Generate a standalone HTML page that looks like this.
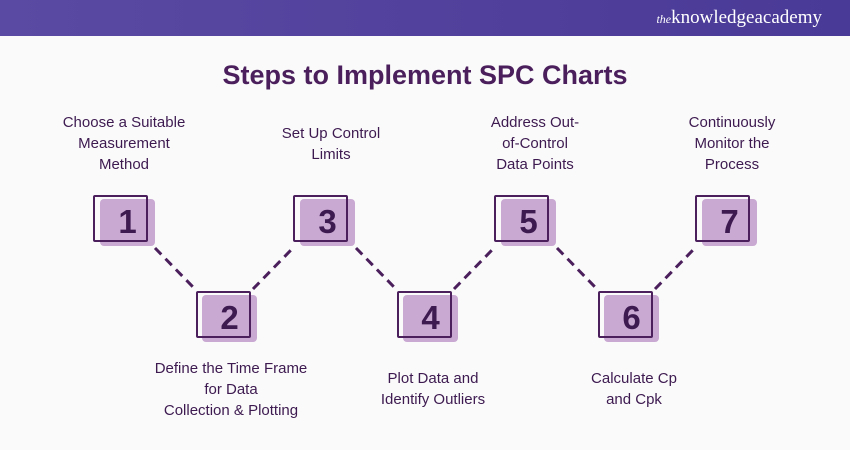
<!DOCTYPE html>
<html><head><style>
body{margin:0;width:850px;height:450px;background:#fafafa;position:relative;overflow:hidden;font-family:"Liberation Sans",sans-serif;}
.hdr{position:absolute;left:0;top:0;width:850px;height:36px;background:linear-gradient(90deg,#5a4aa3,#4a3a97);}
.logo{position:absolute;right:28px;top:7px;color:#fff;font-family:"Liberation Serif",serif;font-size:19px;}
.logo i{font-size:12px}
h1{position:absolute;top:60px;left:0;width:850px;text-align:center;margin:0;font-size:27px;color:#4a1f5c;font-weight:bold;}
.lb{position:absolute;width:190px;text-align:center;font-size:15px;line-height:21px;color:#3d1a50;}
.f{position:absolute;width:55px;height:47px;background:#c9a8d2;border-radius:4px;font-size:33px;font-weight:bold;color:#3d1a50;text-align:center;line-height:46px;}
.o{position:absolute;width:55px;height:47px;border:2px solid #4a1f5c;border-radius:2px;box-sizing:border-box;}
</style></head><body>
<div class="hdr"><div class="logo"><i>the</i>knowledgeacademy</div></div>
<h1>Steps to Implement SPC Charts</h1>
<svg style="position:absolute;left:0;top:0" width="850" height="450">
<g stroke="#4a1f5c" stroke-width="3" stroke-dasharray="9,6" fill="none">
<line x1="155" y1="248" x2="193" y2="287"/>
<line x1="253" y1="289" x2="291" y2="250"/>
<line x1="356" y1="248" x2="394" y2="287"/>
<line x1="454" y1="289" x2="492" y2="250"/>
<line x1="557" y1="248" x2="595" y2="287"/>
<line x1="655" y1="289" x2="693" y2="250"/>
</g></svg>
<div class="f" style="left:100px;top:199px">1</div><div class="o" style="left:93px;top:195px"></div>
<div class="f" style="left:202px;top:295px">2</div><div class="o" style="left:196px;top:291px"></div>
<div class="f" style="left:300px;top:199px">3</div><div class="o" style="left:293px;top:195px"></div>
<div class="f" style="left:403px;top:295px">4</div><div class="o" style="left:397px;top:291px"></div>
<div class="f" style="left:501px;top:199px">5</div><div class="o" style="left:494px;top:195px"></div>
<div class="f" style="left:604px;top:295px">6</div><div class="o" style="left:598px;top:291px"></div>
<div class="f" style="left:702px;top:199px">7</div><div class="o" style="left:695px;top:195px"></div>
<div class="lb" style="left:29px;top:112px">Choose a Suitable<br>Measurement<br>Method</div>
<div class="lb" style="left:236px;top:123px">Set Up Control<br>Limits</div>
<div class="lb" style="left:440px;top:112px">Address Out-<br>of-Control<br>Data Points</div>
<div class="lb" style="left:637px;top:112px">Continuously<br>Monitor the<br>Process</div>
<div class="lb" style="left:136px;top:358px">Define the Time Frame<br>for Data<br>Collection &amp; Plotting</div>
<div class="lb" style="left:338px;top:368px">Plot Data and<br>Identify Outliers</div>
<div class="lb" style="left:539px;top:368px">Calculate Cp<br>and Cpk</div>
</body></html>
